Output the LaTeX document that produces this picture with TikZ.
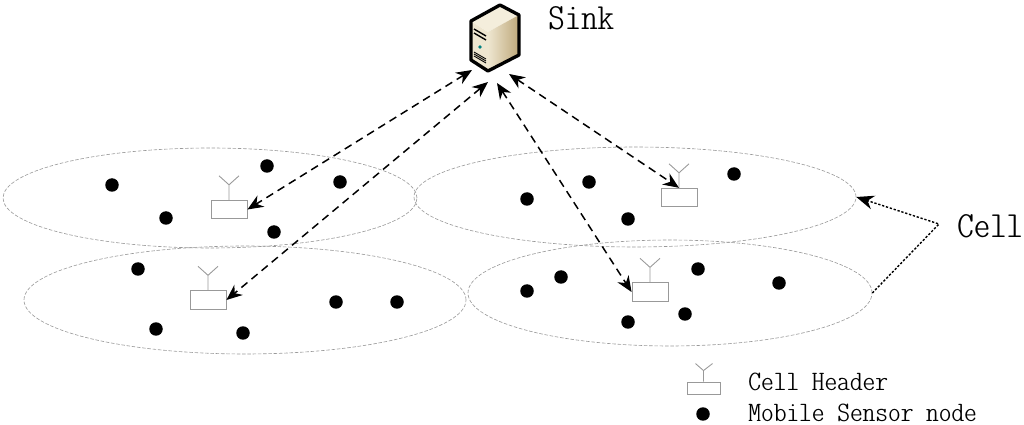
\documentclass[tikz,border=0pt]{standalone}
\usepackage{xcolor}
\usepackage{tikz}
\usetikzlibrary{arrows.meta,shapes.geometric,positioning}
\definecolor{servertop}{RGB}{244,238,220}
\definecolor{serverside}{RGB}{190,168,122}
\definecolor{serverfront}{RGB}{238,230,208}
\newcommand{\antenna}[1]{
    \draw[aerial] (#1.north) -- ++(0,-15) coordinate (#1top) -- ++(-10,-9);
    \draw[aerial] (#1top) -- ++(10,-9);
}
\begin{document}
\begin{tikzpicture}[
        x=0.02cm, y=-0.02cm,
        cell/.style={ellipse, draw=gray!80, dashed, line width=0.35pt, dash pattern=on 2pt off 1pt, minimum width=#1*0.02cm, inner sep=0pt},
        header/.style={rectangle, draw=gray!80, line width=0.5pt, fill=white, minimum width=0.72cm, minimum height=0.37cm, inner sep=0pt},
        sensor/.style={circle, fill=black, minimum size=0.27cm, inner sep=0pt},
        aerial/.style={draw=gray!80, line width=0.5pt},
        link/.style={line width=0.85pt, dash pattern=on 4.5pt off 3pt, {Stealth[length=9pt,width=7.5pt]}-{Stealth[length=9pt,width=7.5pt]}},
        pointer/.style={line width=0.8pt, dash pattern=on 1.3pt off 1pt, -{Stealth[length=10pt,width=8pt]}},
        label/.style={font=\ttfamily\fontseries{lc}\fontsize{21pt}{24pt}\selectfont, inner sep=0pt, anchor=west, xscale=1.27, transform shape},
        legend/.style={font=\ttfamily\fontseries{lc}\fontsize{16pt}{18pt}\selectfont, inner sep=0pt, anchor=west, xscale=1.29, transform shape}
    ]
        \useasboundingbox (0,0) rectangle (1024,425);

        % Cells
        \node[cell=414, minimum height=2cm] (cell1) at (210,198) {};
        \node[cell=442, minimum height=2cm] (cell2) at (635,197) {};
        \node[cell=442, minimum height=2.16cm] (cell3) at (245,300) {};
        \node[cell=404, minimum height=2.12cm] (cell4) at (670,293) {};

        % Sink
        \fill[serverfront] (471,21) -- (488,32) -- (488,71) -- (471,60) -- cycle;
        \fill[servertop] (471,21) -- (500,5) -- (519,15) -- (488,32) -- cycle;
        \shade[left color=serverfront, right color=serverside] (488,32) -- (519,15) -- (519,55) -- (488,71) -- cycle;
        \draw[line width=1.9pt, line join=round] (471,21) -- (500,5) -- (519,15) -- (519,55) -- (488,71) -- (471,60) -- cycle;
        \draw[line width=0.8pt] (474,29) -- (486,36) (474,33) -- (486,40);
        \draw[line width=0.5pt] (474,56) -- (486,63) (474,54) -- (486,61) (474,52) -- (486,59);
        \fill[teal] (480,47) circle (1.8);
        \node[minimum width=0.96cm, minimum height=1.32cm, inner sep=0pt] (sink) at (495,38) {};
        \coordinate (port1) at (472,70);
        \coordinate (port2) at (488,82);
        \coordinate (port3) at (497,83);
        \coordinate (port4) at (509,74);
        \node[label] (sinklabel) at (548,18) {Sink};

        % Cell headers
        \node[header] (head1) at (229,209.5) {};
        \node[header] (head2) at (208,300) {};
        \node[header] (head3) at (679,197.5) {};
        \node[header] (head4) at (650,292) {};
        \antenna{head1}
        \antenna{head2}
        \antenna{head3}
        \antenna{head4}

        % Sensors
        \foreach \px/\py [count=\i] in {112/185,267/166,340/182,166/218,274/232,527/199,589/182,734/174,628/219,138/269,336/302,397/302,156/329,243/333,527/291,561/277,698/269,779/283,628/322,685/314}
            \node[sensor] (sensor\i) at (\px,\py) {};

        % Links
        \draw[link] (port1) -- (head1.east);
        \draw[link] (port2) -- (head2.east);
        \draw[link] (port3) -- (head4.west);
        \draw[link] (port4) -- (head3.north);

        % Cell label
        \node[label] (celllabel) at (957,226) {Cell};
        \coordinate (corner) at (939,224);
        \draw[pointer] (cell4.east) -- (corner) -- (cell2.east);

        % Legend
        \node[header, minimum width=0.66cm, minimum height=0.24cm] (keyhead) at (703.5,388) {};
        \draw[aerial] (keyhead.north) -- ++(0,-11) coordinate (keytop) -- ++(-8,-7);
        \draw[aerial] (keytop) -- ++(9,-7);
        \node[sensor] (keysensor) at (703,414) {};
        \node[legend] (keytext1) at (748,382) {Cell Header};
        \node[legend] (keytext2) at (748,413) {Mobile Sensor node};
    \end{tikzpicture}
\end{document}
